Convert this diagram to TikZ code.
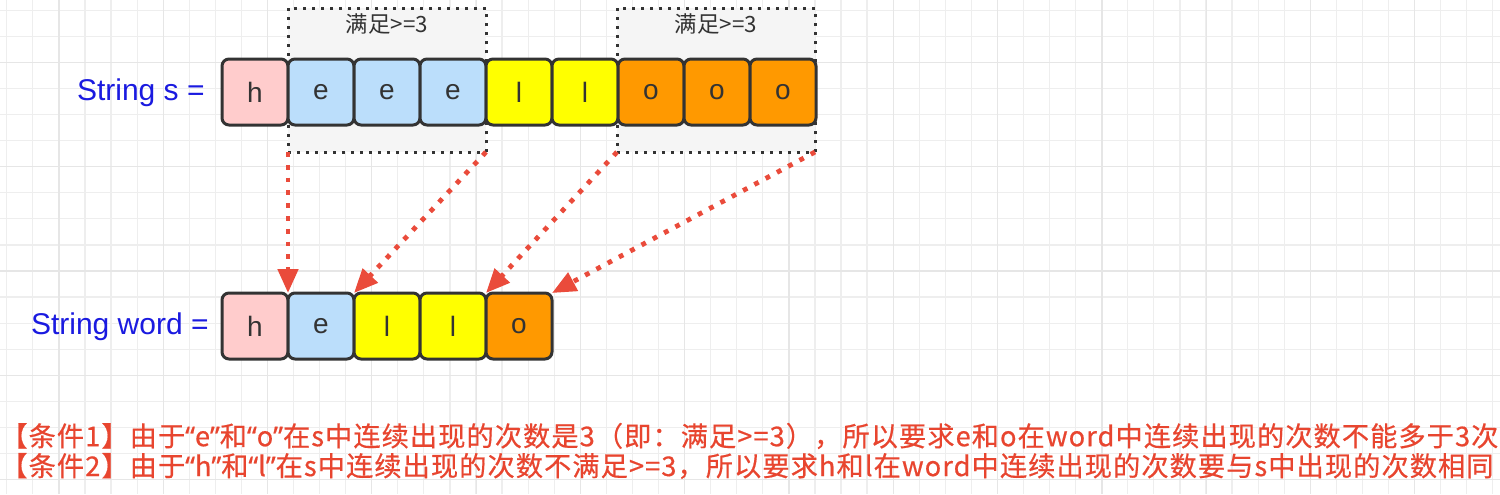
\documentclass[tikz,border=0pt]{standalone}
\usepackage{fontspec}
\setmainfont{Liberation Sans}
\newfontfamily\cjk{Noto Sans CJK SC}
\newfontfamily\cjknote[FakeBold=0.5,LetterSpace=4]{Noto Sans CJK SC}
\newfontfamily\quotefont[FakeBold=0.5]{Noto Sans}
\newcommand{\qopen}{{\quotefont “}}
\newcommand{\qclose}{{\quotefont ”}}
\usetikzlibrary{arrows.meta}
\definecolor{gridminor}{HTML}{EEEEEE}
\definecolor{gridmajor}{HTML}{E6E6E6}
\definecolor{cellborder}{HTML}{333333}
\definecolor{textdark}{HTML}{333333}
\definecolor{cpink}{HTML}{FFCCCC}
\definecolor{cblue}{HTML}{BBDEFB}
\definecolor{cyellow}{HTML}{FFFF00}
\definecolor{corange}{HTML}{FF9900}
\definecolor{groupfill}{HTML}{F5F5F5}
\definecolor{arrowred}{HTML}{EA4B3B}
\definecolor{labelblue}{HTML}{1A1AE0}
\definecolor{notered}{HTML}{E8452F}
\begin{document}
\begin{tikzpicture}[x=0.5pt,y=-0.5pt,
  cell/.style={draw=cellborder, line width=1.5pt, rounded corners=3.5pt,
    minimum width=33pt, minimum height=33pt, inner sep=0pt, outer sep=0pt,
    text=textdark, font=\fontsize{14}{16}\selectfont},
  hcell/.style={cell, fill=cpink},
  ecell/.style={cell, fill=cblue},
  lcell/.style={cell, fill=cyellow},
  ocell/.style={cell, fill=corange},
  groupbox/.style={draw=cellborder, fill=groupfill, line width=1.5pt,
    dash pattern=on 1.5pt off 3pt, minimum width=99pt, minimum height=72pt,
    inner sep=0pt, outer sep=0pt},
  grouplabel/.style={text=textdark, font=\cjk\fontsize{11.2}{13}\selectfont, inner sep=0pt},
  strlabel/.style={text=labelblue, font=\fontsize{15}{17}\selectfont, inner sep=0pt, anchor=east},
  redarrow/.style={draw=arrowred, line width=2.4pt, dash pattern=on 2.4pt off 4pt,
    -{Triangle[length=12pt,width=10pt,fill=arrowred]}},
  note/.style={text=notered, font=\cjknote\fontsize{13.6}{15}\selectfont, inner sep=0pt, anchor=west}
]
\useasboundingbox (0,0) rectangle (1500,494);
\fill[white] (0,0) rectangle (1500,494);
% grid
\foreach \i in {0,...,57} \draw[gridminor, line width=0.6pt] ({6.76+26.07*\i},0) -- ({6.76+26.07*\i},494);
\foreach \j in {0,...,18} \draw[gridminor, line width=0.6pt] (0,{10.3+26.07*\j}) -- (1500,{10.3+26.07*\j});
\foreach \i in {0,...,13} \draw[gridmajor, line width=0.6pt] ({58.9+104.3*\i},0) -- ({58.9+104.3*\i},494);
\foreach \j in {0,...,4} \draw[gridmajor, line width=0.6pt] (0,{62.4+104.3*\j}) -- (1500,{62.4+104.3*\j});

% group boxes
\node[groupbox] (g1) at (387,80) {};
\node[groupbox] (g2) at (716,80) {};
\node[grouplabel] (gl1) at (387,24) {满足>=3};
\node[grouplabel] (gl2) at (716,24) {满足>=3};

% labels
\node[strlabel] (ls) at (205,93) {String s =};
\node[strlabel] (lw) at (209,327) {String word =};

% top row
\node[hcell] (s1) at (255,92) {h};
\node[ecell] (s2) at (321,92) {e};
\node[ecell] (s3) at (387,92) {e};
\node[ecell] (s4) at (453,92) {e};
\node[lcell] (s5) at (519,92) {l};
\node[lcell] (s6) at (585,92) {l};
\node[ocell] (s7) at (651,92) {o};
\node[ocell] (s8) at (717,92) {o};
\node[ocell] (s9) at (783,92) {o};

% bottom row
\node[hcell] (w1) at (255,326) {h};
\node[ecell] (w2) at (321,326) {e};
\node[lcell] (w3) at (387,326) {l};
\node[lcell] (w4) at (453,326) {l};
\node[ocell] (w5) at (519,326) {o};

% arrows
\draw[redarrow] (g1.south west) -- (w2.north west);
\draw[redarrow] (g1.south east) -- (w3.north west);
\draw[redarrow] (g2.south west) -- (w5.north west);
\draw[redarrow] (g2.south east) -- (w5.north east);

% notes
\node[note] (n1) at (0,436) {【条件1】由于\qopen e\qclose 和\qopen o\qclose 在s中连续出现的次数是3（即：满足>=3），所以要求e和o在word中连续出现的次数不能多于3次};
\node[note] (n2) at (0,466) {【条件2】由于\qopen h\qclose 和\qopen l\qclose 在s中连续出现的次数不满足>=3，所以要求h和l在word中连续出现的次数要与s中出现的次数相同};
\end{tikzpicture}
\end{document}
